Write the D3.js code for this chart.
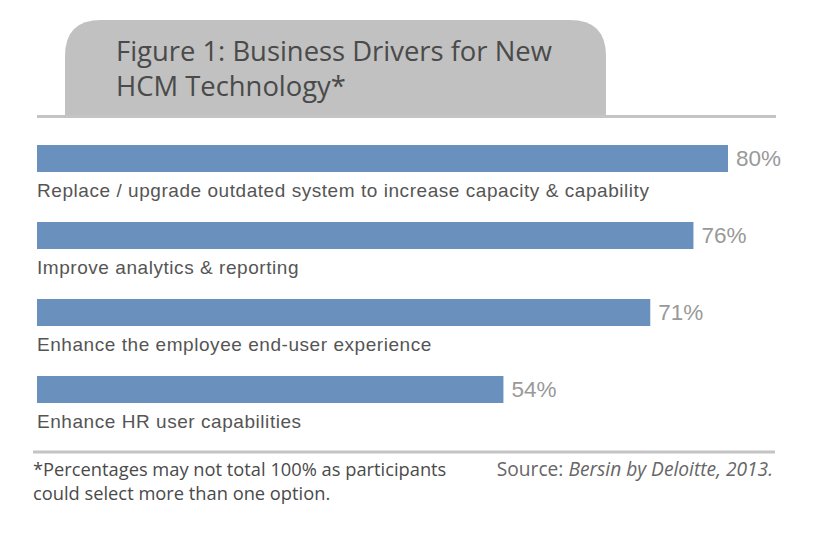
<!DOCTYPE html>
<html>
<head>
<meta charset="utf-8">
<script src="https://cdn.jsdelivr.net/npm/d3@7"></script>
<style>
  html, body { margin: 0; padding: 0; background: #fff; }
  svg { display: block; }
</style>
</head>
<body>
<svg id="chart" width="824" height="544"></svg>
<script>
const categories = [
  "Replace / upgrade outdated system to increase capacity & capability",
  "Improve analytics & reporting",
  "Enhance the employee end-user experience",
  "Enhance HR user capabilities"
];
const values = [80, 76, 71, 54];
const titleLines = ["Figure 1: Business Drivers for New", "HCM Technology*"];
const footnoteLines = ["*Percentages may not total 100% as participants", "could select more than one option."];
const sourceLabel = "Source: ";
const sourceText = "Bersin by Deloitte, 2013.";

const svg = d3.select("#chart");

// Title tab
const tabX0 = 65, tabX1 = 606, tabY0 = 20, tabY1 = 116, r = 36;
svg.append("path")
  .attr("d", `M${tabX0},${tabY1} L${tabX0},${tabY0 + r} Q${tabX0},${tabY0} ${tabX0 + r},${tabY0} L${tabX1 - r},${tabY0} Q${tabX1},${tabY0} ${tabX1},${tabY0 + r} L${tabX1},${tabY1} Z`)
  .attr("fill", "#c0c1c0");

svg.append("text")
  .attr("font-family", "'Open Sans', 'Noto Sans', sans-serif")
  .attr("font-size", 27.4)
  .attr("fill", "#4a4a4a")
  .selectAll("tspan").data(titleLines).join("tspan")
  .attr("x", 116)
  .attr("y", (d, i) => 61 + i * 35)
  .text(d => d);

// Rules
svg.append("line").attr("x1", 37).attr("x2", 776).attr("y1", 116.5).attr("y2", 116.5)
  .attr("stroke", "#c4c4c4").attr("stroke-width", 3);
svg.append("line").attr("x1", 33).attr("x2", 775).attr("y1", 452).attr("y2", 452)
  .attr("stroke", "#c4c4c4").attr("stroke-width", 3);

// Scales
const x = d3.scaleLinear().domain([0, 80]).range([37, 728]);
const y = d3.scaleBand().domain(categories).range([145, 403]).paddingInner(50 / 77).paddingOuter(0);

const g = svg.append("g");
g.selectAll("rect.bar").data(categories).join("rect")
  .attr("class", "bar")
  .attr("x", x(0))
  .attr("y", d => y(d))
  .attr("width", (d, i) => x(values[i]) - x(0))
  .attr("height", y.bandwidth())
  .attr("fill", "#6a91bd");

g.selectAll("text.val").data(categories).join("text")
  .attr("class", "val")
  .attr("x", (d, i) => x(values[i]) + 8)
  .attr("y", d => y(d) + 20.5)
  .attr("font-family", "'Liberation Sans', Arial, sans-serif")
  .attr("font-size", 22.5)
  .attr("fill", "#999999")
  .text((d, i) => values[i] + "%");

g.selectAll("text.lab").data(categories).join("text")
  .attr("class", "lab")
  .attr("x", 37)
  .attr("y", d => y(d) + y.bandwidth() + 24.5)
  .attr("font-family", "'Liberation Sans', Arial, sans-serif")
  .attr("font-size", 19)
  .attr("letter-spacing", 0.55)
  .attr("fill", "#555555")
  .text(d => d);

// Footnote
svg.append("text")
  .attr("font-family", "'Open Sans', 'Noto Sans', sans-serif")
  .attr("font-size", 18.3)
  .attr("fill", "#4a4a4a")
  .selectAll("tspan").data(footnoteLines).join("tspan")
  .attr("x", 33)
  .attr("y", (d, i) => 476 + i * 24)
  .text(d => d);

const src = svg.append("text")
  .attr("x", 773)
  .attr("y", 476)
  .attr("text-anchor", "end")
  .attr("font-family", "'Open Sans', 'Noto Sans', sans-serif")
  .attr("font-size", 19.2)
  .attr("fill", "#666666");
src.append("tspan").text(sourceLabel);
src.append("tspan").attr("font-style", "italic").text(sourceText);
</script>
</body>
</html>
